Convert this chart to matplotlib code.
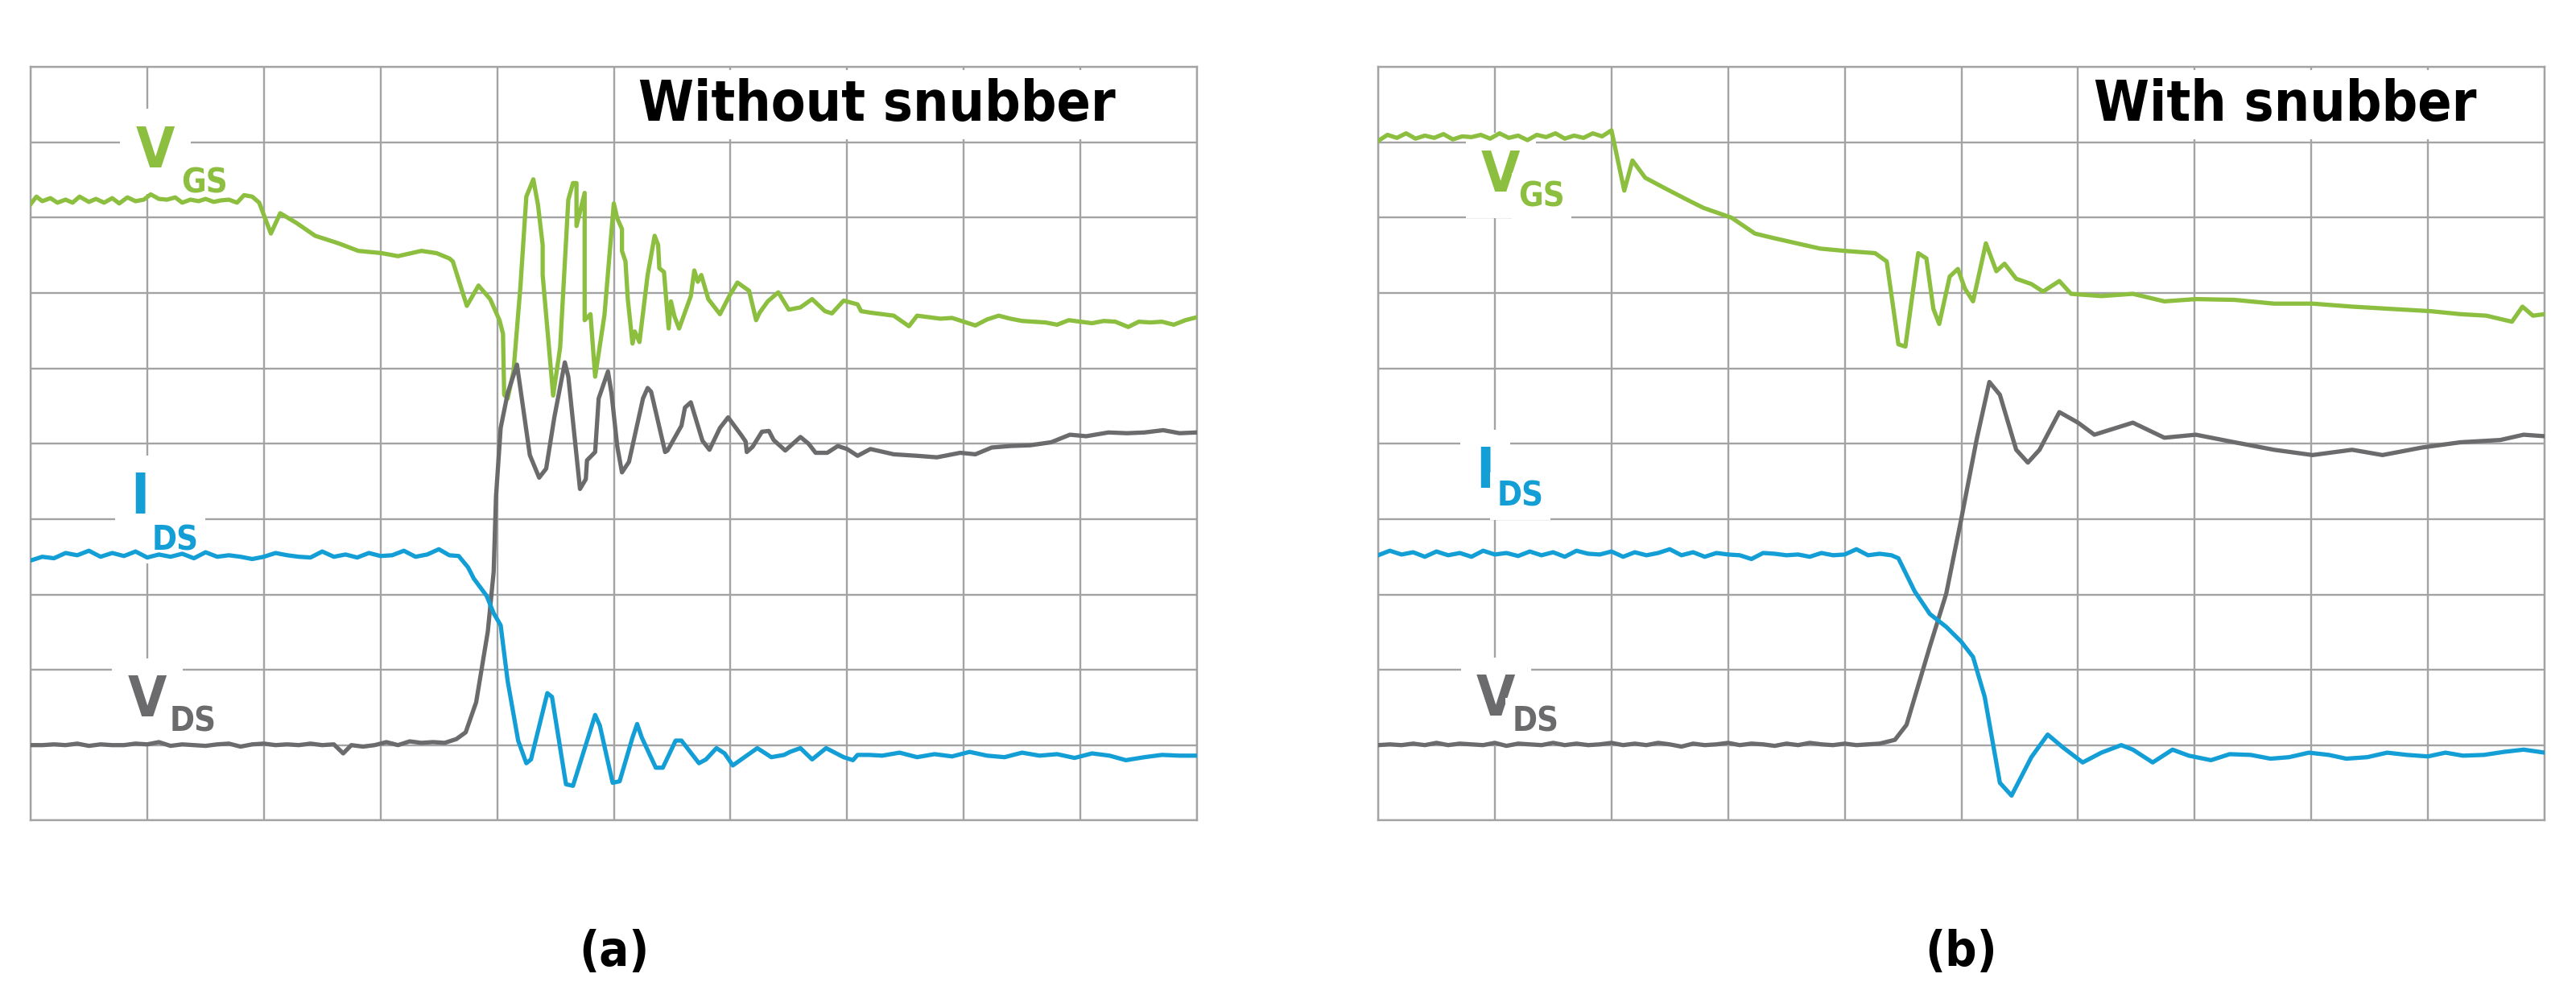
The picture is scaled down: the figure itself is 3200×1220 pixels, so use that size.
import matplotlib
matplotlib.use("Agg")
import matplotlib.pyplot as plt

GREEN = "#8cbf3f"; BLUE = "#139fd6"; GREY = "#6b6b6d"; GRID = "#a3a3a3"

# ---------- panel (a): without snubber ----------
a_vgs_x = [0,0.05,0.1,0.17,0.23,0.3,0.36,0.42,0.5,0.56,0.63,0.7,0.76,0.83,0.9,0.97,1.03,1.1,1.17,1.24,1.3,1.37,1.44,1.5,1.57,1.63,1.7,1.77,1.83,1.9,1.96,
           2.06,2.14,2.28,2.44,2.64,2.81,3.01,3.15,3.35,3.48,3.59,3.62,3.74,3.84,3.94,4.02,4.05,4.06,4.09,4.14,4.20,4.25,4.31,4.35,4.39,4.39,4.48,4.54,
           4.61,4.65,4.68,4.68,4.72,4.75,4.75,4.80,4.84,4.92,5.00,5.03,5.07,5.07,5.10,5.12,5.16,5.18,5.22,5.29,5.35,5.38,5.39,5.43,5.47,5.49,5.52,5.56,
           5.66,5.69,5.72,5.75,5.81,5.91,5.99,6.06,6.16,6.22,6.25,6.32,6.41,6.50,6.60,6.70,6.81,6.87,6.97,7.09,7.12,7.20,
           7.3,7.4,7.53,7.6,7.7,7.8,7.9,8.0,8.1,8.2,8.3,8.4,8.5,8.6,8.7,8.8,8.9,9.0,9.1,9.2,9.3,9.41,9.5,9.6,9.7,9.8,9.9,10]
a_vgs_y = [8.18,8.28,8.22,8.26,8.2,8.24,8.2,8.28,8.21,8.25,8.2,8.26,8.19,8.27,8.22,8.24,8.31,8.25,8.24,8.27,8.2,8.24,8.22,8.25,8.21,8.23,8.24,8.2,8.3,8.28,8.2,
           7.79,8.06,7.93,7.76,7.66,7.56,7.53,7.49,7.56,7.53,7.46,7.42,6.83,7.10,6.92,6.64,6.46,5.65,5.60,5.96,7.10,8.28,8.51,8.17,7.64,7.24,5.64,6.28,
           8.24,8.46,8.46,7.89,8.14,8.33,6.64,6.72,5.89,6.71,8.19,7.99,7.85,7.56,7.42,6.92,6.33,6.49,6.35,7.24,7.76,7.64,7.33,7.28,6.53,6.89,6.69,6.53,
           6.96,7.30,7.15,7.24,6.92,6.72,6.96,7.14,7.03,6.64,6.74,6.89,7.01,6.78,6.81,6.92,6.76,6.73,6.90,6.85,6.76,6.74,
           6.72,6.7,6.56,6.7,6.68,6.66,6.67,6.62,6.57,6.65,6.7,6.66,6.63,6.62,6.61,6.58,6.64,6.62,6.6,6.63,6.62,6.55,6.62,6.61,6.62,6.58,6.64,6.68]

a_vds_x = [0,0.1,0.2,0.3,0.4,0.5,0.6,0.7,0.8,0.9,1.0,1.1,1.2,1.3,1.4,1.5,1.6,1.7,1.8,1.9,2.0,2.1,2.2,2.3,2.4,2.5,2.6,2.68,2.75,2.85,2.95,3.05,3.15,3.25,3.35,3.45,
           3.55,3.65,3.73,3.82,3.92,3.97,3.99,4.03,4.09,4.17,4.28,4.36,4.42,4.49,4.58,4.61,4.71,4.76,4.77,4.84,4.87,4.95,4.98,5.03,5.07,5.13,5.25,5.29,5.32,
           5.44,5.46,5.58,5.61,5.66,5.76,5.82,5.91,5.98,6.09,6.13,6.14,6.19,6.27,6.33,6.37,6.47,6.60,6.67,6.73,6.83,6.92,7.00,7.09,7.20,
           7.4,7.6,7.77,7.97,8.1,8.24,8.4,8.57,8.75,8.91,9.05,9.24,9.4,9.55,9.71,9.85,10]
a_vds_y = [1.0,1.0,1.01,1.0,1.02,0.99,1.01,1.0,1.0,1.02,1.01,1.04,0.99,1.01,1.0,0.99,1.01,1.02,0.98,1.01,1.02,1.0,1.01,1.0,1.02,1.0,1.01,0.89,1.0,0.98,1.0,1.04,1.0,1.05,1.03,1.04,
           1.03,1.08,1.17,1.57,2.51,3.3,4.3,5.21,5.67,6.05,4.85,4.55,4.67,5.35,6.08,5.89,4.40,4.53,4.78,4.89,5.60,5.96,5.67,4.96,4.62,4.76,5.60,5.74,5.69,
           4.89,4.91,5.24,5.48,5.55,5.04,4.92,5.21,5.35,5.12,5.03,4.89,4.96,5.16,5.17,5.05,4.91,5.09,5.00,4.88,4.88,4.97,4.93,4.84,4.93,
           4.86,4.84,4.82,4.88,4.86,4.95,4.97,4.98,5.02,5.12,5.1,5.15,5.14,5.15,5.18,5.14,5.15]

a_ids_x = [0,0.1,0.2,0.3,0.4,0.5,0.6,0.7,0.8,0.9,1.0,1.1,1.2,1.3,1.4,1.5,1.6,1.7,1.8,1.9,2.0,2.1,2.2,2.3,2.4,2.5,2.6,2.7,2.8,2.9,3.0,3.1,3.2,3.3,3.4,3.5,3.59,3.67,
           3.75,3.80,3.91,3.97,4.03,4.09,4.18,4.25,4.29,4.43,4.47,4.59,4.65,4.84,4.88,4.99,5.05,5.16,5.20,5.24,5.36,5.42,5.53,5.58,5.73,5.79,5.88,5.95,6.02,
           6.23,6.35,6.46,6.51,6.60,6.70,6.82,6.97,7.05,7.09,7.19,
           7.3,7.45,7.6,7.75,7.9,8.05,8.2,8.35,8.5,8.65,8.8,8.95,9.1,9.25,9.39,9.55,9.7,9.85,10]
a_ids_y = [3.45,3.5,3.48,3.55,3.52,3.58,3.5,3.55,3.51,3.57,3.49,3.53,3.5,3.54,3.48,3.56,3.5,3.52,3.5,3.47,3.5,3.55,3.52,3.5,3.49,3.57,3.5,3.53,3.49,3.55,3.51,3.52,3.58,3.5,3.53,3.6,3.52,3.51,
           3.36,3.21,2.98,2.75,2.59,1.85,1.06,0.76,0.81,1.69,1.64,0.48,0.46,1.40,1.26,0.50,0.52,1.10,1.28,1.10,0.70,0.70,1.06,1.06,0.76,0.81,0.96,0.89,0.73,
           0.96,0.84,0.87,0.91,0.96,0.81,0.96,0.84,0.80,0.87,0.87,
           0.86,0.9,0.84,0.88,0.85,0.91,0.86,0.84,0.9,0.86,0.88,0.83,0.89,0.86,0.80,0.84,0.87,0.86,0.86]

# ---------- panel (b): with snubber ----------
b_vgs_x = [0,0.08,0.16,0.24,0.32,0.4,0.48,0.56,0.64,0.72,0.8,0.88,0.96,1.04,1.12,1.2,1.28,1.36,1.44,1.52,1.6,1.68,1.76,1.84,1.92,2.0,
           2.11,2.18,2.29,2.46,2.66,2.79,3.03,3.23,3.39,3.59,3.79,4.0,4.26,4.36,4.46,4.52,4.57,4.63,4.70,4.76,4.81,4.90,4.97,5.03,5.10,5.21,5.30,5.37,5.47,
           5.60,5.70,5.84,5.94,6.20,6.47,6.74,7.01,7.34,7.68,8.01,8.35,8.68,9.02,9.28,9.5,9.72,9.81,9.9,10]
b_vgs_y = [9.02,9.1,9.06,9.12,9.05,9.09,9.06,9.11,9.04,9.08,9.07,9.1,9.05,9.12,9.06,9.09,9.03,9.1,9.07,9.12,9.05,9.09,9.06,9.12,9.08,9.16,
           8.36,8.76,8.53,8.39,8.23,8.13,8.0,7.79,7.73,7.66,7.59,7.56,7.53,7.42,6.32,6.29,6.86,7.53,7.46,6.79,6.59,7.22,7.32,7.06,6.89,7.66,7.29,7.39,7.19,
           7.12,7.02,7.16,6.99,6.96,6.99,6.89,6.92,6.91,6.86,6.86,6.82,6.79,6.76,6.72,6.7,6.62,6.82,6.7,6.72]

b_vds_x = [0,0.1,0.2,0.3,0.4,0.5,0.6,0.7,0.8,0.9,1.0,1.1,1.2,1.3,1.4,1.5,1.6,1.7,1.8,1.9,2.0,2.1,2.2,2.3,2.4,2.5,2.6,2.7,2.8,2.9,3.0,3.1,3.2,3.3,3.4,3.5,3.6,3.7,3.8,3.9,4.0,4.1,4.2,4.3,
           4.43,4.53,4.73,4.87,5.0,5.13,5.24,5.33,5.47,5.57,5.67,5.84,6.00,6.14,6.47,6.74,7.01,7.34,7.68,8.01,8.35,8.61,8.95,9.28,9.62,9.82,10]
b_vds_y = [1.0,1.01,1.0,1.02,1.0,1.03,1.0,1.02,1.01,1.0,1.03,0.99,1.02,1.01,1.0,1.03,1.0,1.02,1.0,1.01,1.03,1.0,1.02,1.0,1.03,1.01,0.98,1.02,1.0,1.01,1.03,1.0,1.02,1.01,0.99,1.02,1.0,1.03,1.01,1.0,1.02,1.0,1.01,1.02,
           1.07,1.27,2.31,3.01,4.01,5.05,5.82,5.65,4.92,4.75,4.92,5.42,5.28,5.12,5.28,5.08,5.12,5.02,4.92,4.85,4.92,4.85,4.95,5.02,5.05,5.12,5.10]

b_ids_x = [0,0.1,0.2,0.3,0.4,0.5,0.6,0.7,0.8,0.9,1.0,1.1,1.2,1.3,1.4,1.5,1.6,1.7,1.8,1.9,2.0,2.1,2.2,2.3,2.4,2.5,2.6,2.7,2.8,2.9,3.0,3.1,3.2,3.3,3.4,3.5,3.6,3.7,3.8,3.9,4.0,4.1,4.2,4.3,4.40,
           4.46,4.60,4.73,4.87,5.0,5.10,5.20,5.33,5.43,5.60,5.74,5.87,6.04,6.20,6.37,6.47,6.64,6.81,6.95,7.14,7.3,7.48,7.65,7.81,7.98,8.15,8.3,8.48,8.65,8.82,9.0,9.15,9.3,9.48,9.65,9.82,10]
b_ids_y = [3.52,3.58,3.53,3.56,3.5,3.57,3.52,3.55,3.5,3.58,3.53,3.55,3.51,3.57,3.52,3.56,3.5,3.58,3.54,3.53,3.57,3.5,3.56,3.52,3.55,3.6,3.52,3.56,3.5,3.55,3.53,3.52,3.47,3.55,3.54,3.52,3.53,3.5,3.55,3.52,3.53,3.6,3.52,3.54,3.52,
           3.48,3.04,2.74,2.57,2.37,2.17,1.64,0.50,0.33,0.84,1.14,0.97,0.77,0.90,1.0,0.94,0.77,0.94,0.86,0.80,0.88,0.87,0.82,0.84,0.9,0.87,0.82,0.84,0.9,0.87,0.85,0.90,0.86,0.87,0.91,0.94,0.90]

titles = ["Without snubber", "With snubber"]
captions = ["(a)", "(b)"]

FONT = dict(family="DejaVu Sans", stretch="condensed")

fig = plt.figure(figsize=(32, 12.2), dpi=100)
axes = [fig.add_axes([38/3200, 1-1019.3/1220, 1449/3200, 936/1220]),
        fig.add_axes([1712/3200, 1-1019.3/1220, 1449/3200, 936/1220])]

def label(ax, x, y, main, sub, color, dx=0.22, dy=-0.42):
    ax.text(x, y, main, color=color, fontsize=50, fontweight="bold", ha="center", va="center",
            zorder=3, bbox=dict(facecolor="white", edgecolor="none", pad=14), **FONT)
    ax.text(x + dx, y + dy, sub, color=color, fontsize=30, fontweight="bold", ha="left", va="center",
            zorder=3, bbox=dict(facecolor="white", edgecolor="none", pad=6), **FONT)

data = [(a_vgs_x, a_vgs_y, a_vds_x, a_vds_y, a_ids_x, a_ids_y),
        (b_vgs_x, b_vgs_y, b_vds_x, b_vds_y, b_ids_x, b_ids_y)]

for i, ax in enumerate(axes):
    gx, gy, vx, vy, ix, iy = data[i]
    ax.set_xlim(0, 10); ax.set_ylim(0, 10)
    ax.set_xticks(range(11)); ax.set_yticks(range(11))
    ax.tick_params(length=0, labelbottom=False, labelleft=False)
    ax.grid(True, color=GRID, lw=1.7)
    for s in ax.spines.values():
        s.set_color(GRID); s.set_linewidth(1.7)
    ax.plot(gx, gy, color=GREEN, lw=3.8, zorder=4, solid_joinstyle="round")
    ax.plot(vx, vy, color=GREY, lw=3.8, zorder=4, solid_joinstyle="round")
    ax.plot(ix, iy, color=BLUE, lw=3.8, zorder=4, solid_joinstyle="round")
    ax.text(9.3 if i == 0 else 9.42, 9.5, titles[i], ha="right", va="center", fontsize=50,
            fontweight="bold", color="black", zorder=3,
            bbox=dict(facecolor="white", edgecolor="none", pad=7), **FONT)
    ax.text(0.5, -0.175, captions[i], transform=ax.transAxes, ha="center", va="center",
            fontsize=44, fontweight="bold", **FONT)

label(axes[0], 1.07, 8.88, "V", "GS", GREEN)
label(axes[0], 0.94, 4.28, "I", "DS", BLUE, dx=0.1, dy=-0.56)
label(axes[0], 1.0, 1.59, "V", "DS", GREY, dx=0.19, dy=-0.28)
label(axes[1], 1.05, 8.56, "V", "GS", GREEN, dx=0.15, dy=-0.28)
label(axes[1], 0.92, 4.62, "I", "DS", BLUE, dx=0.1, dy=-0.32)
label(axes[1], 1.01, 1.6, "V", "DS", GREY, dx=0.14, dy=-0.29)

fig.savefig("out.png", dpi=100, facecolor="white")
